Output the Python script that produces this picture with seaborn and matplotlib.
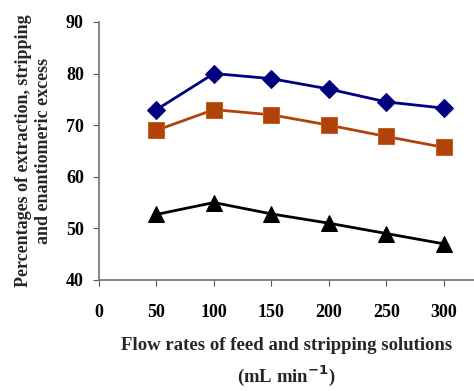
import pandas as pd
import matplotlib.pyplot as plt
import seaborn as sns

flow = [50, 100, 150, 200, 250, 300]
extraction = [73.0, 80.0, 79.0, 77.0, 74.5, 73.3]
stripping = [69.0, 73.0, 72.0, 70.0, 67.8, 65.7]
ee = [52.7, 55.0, 52.8, 51.0, 49.0, 47.0]

df = pd.DataFrame({"flow": flow, "extraction": extraction, "stripping": stripping, "ee": ee})

sns.set_theme(style="ticks")
plt.rcParams['font.family'] = ['Liberation Serif', 'DejaVu Serif']
plt.rcParams['font.weight'] = 'bold'

fig = plt.figure(figsize=(4.74, 3.91), dpi=100)
ax = fig.add_axes([0.209, 0.284, 0.79, 0.66])

sns.lineplot(data=df, x="flow", y="extraction", ax=ax, color="#000080", lw=2,
             marker="D", markersize=9, markeredgecolor="#000080")
sns.lineplot(data=df, x="flow", y="stripping", ax=ax, color="#b0420c", lw=2,
             marker="s", markersize=11, markeredgecolor="#c8601c")
sns.lineplot(data=df, x="flow", y="ee", ax=ax, color="black", lw=2,
             marker="^", markersize=11, markeredgecolor="black")

ax.set_xlim(0, 326)
ax.set_ylim(40, 90)
ax.set_xticks([0, 50, 100, 150, 200, 250, 300])
ax.set_yticks([40, 50, 60, 70, 80, 90])
ax.tick_params(labelsize=13, length=4, width=0.8, colors="#555555", labelcolor="black")
ax.tick_params(axis="x", pad=13)
ax.tick_params(axis="y", pad=7)
for lab in ax.get_xticklabels() + ax.get_yticklabels():
    lab.set_fontweight("bold")
sns.despine(ax=ax)
ax.spines['left'].set_color("#777777")
ax.spines['bottom'].set_color("#777777")

ax.set_xlabel("Flow rates of feed and stripping solutions\n(mL min$^{\\mathbf{-1}}$)",
              fontsize=13.5, fontweight="bold", labelpad=12, linespacing=1.5)
ax.set_ylabel("Percentages of extraction, stripping\nand enantiomeric excess",
              fontsize=13, fontweight="bold", labelpad=10)

fig.savefig("out.png", dpi=100)
